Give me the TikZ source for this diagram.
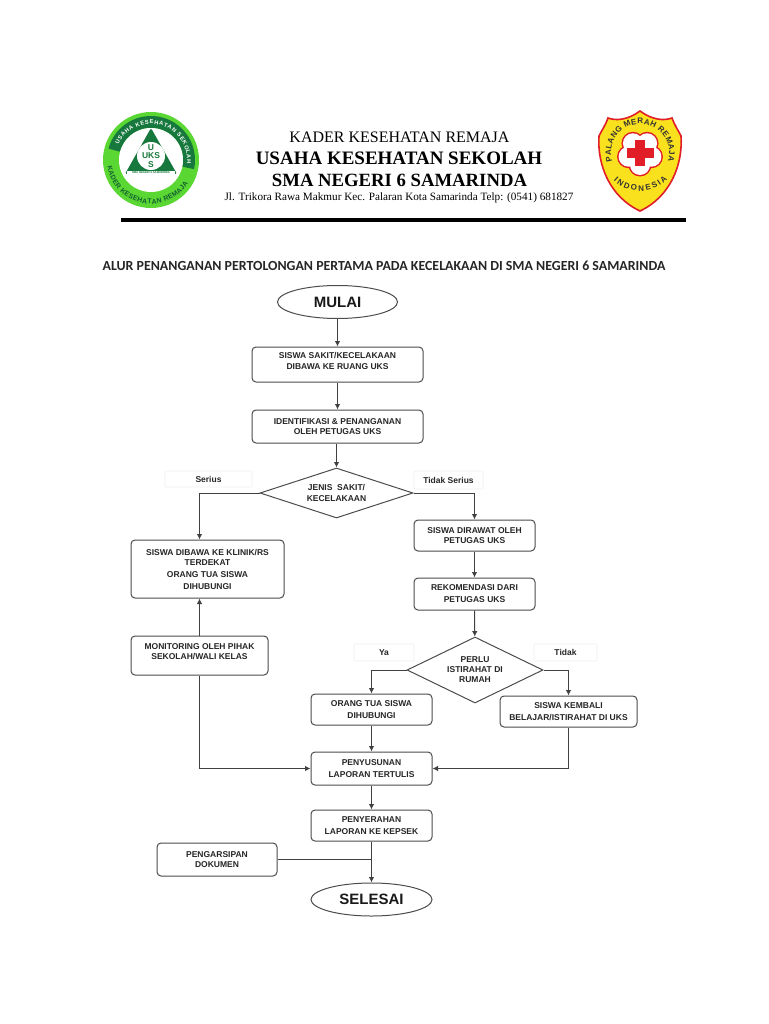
\documentclass[tikz,border=0pt]{standalone}
\usepackage{fontspec}
\setmainfont{Liberation Serif}
\setsansfont{Liberation Sans}
\newfontfamily\titlefont{Carlito}
\usepackage{xcolor}
\usetikzlibrary{arrows.meta,shapes.geometric,decorations.text}
\definecolor{inkgray}{gray}{0.15}
\definecolor{uksdark}{RGB}{22,120,60}
\definecolor{uksbright}{RGB}{90,215,50}
\definecolor{pmryellow}{RGB}{250,225,30}
\definecolor{pmrred}{RGB}{225,30,40}
\newcommand{\boxfont}{\sffamily\bfseries\fontsize{8.5}{10.5}\selectfont}
\newcommand{\arcfontA}{\sffamily\bfseries\fontsize{5.7}{6}\selectfont}
\newcommand{\arcfontC}{\sffamily\bfseries\fontsize{6.9}{7}\selectfont}
\newcommand{\arcfontB}{\sffamily\bfseries\fontsize{8}{8.5}\selectfont}

\begin{document}
\begin{tikzpicture}[
    x=1pt, y=-1pt,
    >={Latex[length=5.5pt,width=5.5pt]},
    flowbox/.style={draw=black!70, line width=1pt, rounded corners=4pt,
        fill=white, align=center, inner sep=0pt, font=\boxfont, text=inkgray},
    startend/.style={draw=black!70, line width=1pt, ellipse, fill=white,
        inner sep=0pt, font=\sffamily\bfseries\fontsize{15}{17}\selectfont,
        text=black!90},
    decision/.style={draw=black!70, line width=1pt, diamond, fill=white,
        align=center, inner sep=0pt, font=\boxfont, text=inkgray},
    caselabel/.style={draw=black!6, line width=0.7pt, rounded corners=1pt,
        inner sep=0pt, font=\boxfont, text=inkgray},
    flowline/.style={->, line width=1pt, draw=black!75},
    headline/.style={font=\fontsize{#1}{#1}\selectfont, text=black},
    headbold/.style={font=\bfseries\fontsize{#1}{#1}\selectfont, text=black},
]
\useasboundingbox[fill=white] (0,0) rectangle (768,1024);

% kop surat
\node[headline=16] (kader) at (399.5,137) {KADER KESEHATAN REMAJA};
\node[headbold=19] (usaha) at (399,158) {USAHA KESEHATAN SEKOLAH};
\node[headbold=18.7] (sman) at (399.5,180) {SMA NEGERI 6 SAMARINDA};
\node[headline=11.2] (alamat) at (399,198) {Jl. Trikora Rawa Makmur Kec. Palaran Kota Samarinda Telp: (0541) 681827};
\fill[black] (121,218.5) rectangle (686,222);

% logo uks
\fill[uksbright] (151,160) circle[radius=48pt];
\fill[uksdark] (151,160) ++(165:44pt) arc[start angle=165, end angle=-12, radius=44pt]
    -- ++(168:12pt) arc[start angle=-12, end angle=165, radius=32pt] -- cycle;
\fill[white] (151,160) circle[radius=32pt];
\fill[uksdark, rounded corners=1.5pt] (151,128) -- (177,174) -- (125,174) -- cycle;
\fill[white] (151,156) circle[radius=14pt];
\fill[white] (127,171) rectangle (175,175);
\node[font=\sffamily\bfseries\fontsize{2.8}{3}\selectfont, text=uksdark, inner sep=0pt]
    (uksname) at (151,173) {SMA NEGERI 6 SAMARINDA};
\node[font=\sffamily\bfseries\fontsize{8.5}{8.6}\selectfont, align=center, text=uksdark, inner sep=0pt]
    (uksmark) at (151,156) {U\\UKS\\S};
\draw[decorate, decoration={text along path, text align={fit to path},
        text={|\arcfontA\color{white}|USAHA KESEHATAN SEKOLAH}}]
    (151,160) ++(155:36pt) arc[start angle=155, end angle=-6, radius=36pt];
\draw[decorate, decoration={text along path, text align={fit to path},
        text={|\arcfontC\color{uksdark!80!black}|KADER KESEHATAN REMAJA}}]
    (151,160) ++(188:44pt) arc[start angle=188, end angle=328, radius=44pt];

% logo pmr
\filldraw[draw=pmrred, fill=pmryellow, line width=1.6pt]
    (640,111) .. controls (652,120) and (664,121) .. (672,118)
    .. controls (674,124) and (678,130) .. (681,136)
    .. controls (683,165) and (670,197) .. (640,211)
    .. controls (610,197) and (597,165) .. (599,136)
    .. controls (602,130) and (606,124) .. (608,118)
    .. controls (616,121) and (628,120) .. (640,111) -- cycle;
\foreach \a in {54,126,198,270,342} {
    \fill[pmrred] (640,153) ++(\a:12pt) circle[radius=11.5pt];
}
\foreach \a in {54,126,198,270,342} {
    \fill[white] (640,153) ++(\a:12pt) circle[radius=10pt];
}
\fill[white] (640,153) circle[radius=13pt];
\fill[pmrred] (635,140) rectangle (645,166);
\fill[pmrred] (627,148) rectangle (654,158);
\draw[decorate, decoration={text along path, text align={fit to path},
        text={|\arcfontB\color{black!80}|PALANG MERAH REMAJA}}]
    (640,153) ++(197:29pt) arc[start angle=197, end angle=-17, radius=29pt];
\draw[decorate, decoration={text along path, text align={fit to path},
        text={|\arcfontB\color{black!80}|INDONESIA}}]
    (640,153) ++(226:38pt) arc[start angle=226, end angle=316, radius=38pt];

% judul
\node[font=\titlefont\bfseries\fontsize{13.9}{15}\selectfont, text=black!85] (judul) at (384,266)
    {ALUR PENANGANAN PERTOLONGAN PERTAMA PADA KECELAKAAN DI SMA NEGERI 6 SAMARINDA};

% alur
\node[startend, minimum width=120pt, minimum height=33pt] (mulai) at (337.5,302) {MULAI};
\node[flowbox, minimum width=171pt, minimum height=35pt] (sakit) at (337.5,364.5)
    {SISWA SAKIT/KECELAKAAN\\DIBAWA KE RUANG UKS\\[-3pt]};
\node[flowbox, minimum width=171pt, minimum height=33pt] (identifikasi) at (337.5,426.5)
    {IDENTIFIKASI \& PENANGANAN\\OLEH PETUGAS UKS};
\node[decision, aspect=3, minimum width=153pt, minimum height=50pt] (jenis) at (336.5,493)
    {JENIS\ \ SAKIT/\\KECELAKAAN};
\node[caselabel, minimum width=87pt, minimum height=16pt] (serius) at (208.5,479) {Serius};
\node[caselabel, minimum width=69pt, minimum height=18pt] (tidakserius) at (448.5,480) {Tidak Serius};
\node[flowbox, minimum width=153pt, minimum height=58pt] (klinik) at (207.5,569)
    {SISWA DIBAWA KE KLINIK/RS\\[-0.5pt]TERDEKAT\\[1.5pt]ORANG TUA SISWA\\[1.5pt]DIHUBUNGI};
\node[flowbox, minimum width=137pt, minimum height=39pt] (monitoring) at (199.5,655.5)
    {MONITORING OLEH PIHAK\\[-0.5pt]SEKOLAH/WALI KELAS\\[-3pt]};
\node[flowbox, minimum width=121pt, minimum height=31pt] (dirawat) at (474.5,535.5)
    {SISWA DIRAWAT OLEH\\[-0.5pt]PETUGAS UKS};
\node[flowbox, minimum width=121pt, minimum height=32pt] (rekomendasi) at (474.5,594)
    {REKOMENDASI DARI\\[1.5pt]PETUGAS UKS};
\node[decision, aspect=2, minimum width=136pt, minimum height=66pt] (perlu) at (475,670)
    {PERLU\\[-0.5pt]ISTIRAHAT DI\\[-0.5pt]RUMAH};
\node[caselabel, minimum width=60pt, minimum height=17pt] (ya) at (384,652.5) {Ya};
\node[caselabel, minimum width=63pt, minimum height=17pt] (tidak) at (565.5,652.5) {Tidak};
\node[flowbox, minimum width=121pt, minimum height=31pt] (ortu) at (371.5,709.5)
    {ORANG TUA SISWA\\[1.5pt]DIHUBUNGI};
\node[flowbox, minimum width=137pt, minimum height=31pt] (kembali) at (568.5,711.5)
    {SISWA KEMBALI\\[1.5pt]BELAJAR/ISTIRAHAT DI UKS};
\node[flowbox, minimum width=121pt, minimum height=33pt] (penyusunan) at (371.5,768.5)
    {PENYUSUNAN\\[1.5pt]LAPORAN TERTULIS};
\node[flowbox, minimum width=121pt, minimum height=31pt] (penyerahan) at (371.5,825.5)
    {PENYERAHAN\\[1.5pt]LAPORAN KE KEPSEK};
\node[flowbox, minimum width=120pt, minimum height=33pt] (arsip) at (217,859.5)
    {PENGARSIPAN\\[-0.5pt]DOKUMEN};
\node[startend, minimum width=121pt, minimum height=33pt] (selesai) at (371.5,899.5) {SELESAI};

\draw[flowline] (mulai) -- (sakit);
\draw[flowline] (sakit) -- (identifikasi);
\draw[flowline] (identifikasi.south -| jenis.north) -- (jenis.north);
\draw[flowline] (jenis.west) -| (klinik.north -| monitoring.north);
\draw[flowline] (jenis.east) -| (dirawat.north);
\draw[flowline] (dirawat) -- (rekomendasi);
\draw[flowline] (rekomendasi) -- (perlu);
\draw[flowline] (monitoring.north) -- (klinik.south -| monitoring.north);
\draw[flowline] (monitoring.south) |- (penyusunan.west);
\draw[flowline] (perlu.west) -| (ortu.north);
\draw[flowline] (perlu.east) -| (kembali.north);
\draw[flowline] (ortu) -- (penyusunan);
\draw[flowline] (kembali.south) |- (penyusunan.east);
\draw[flowline] (penyusunan) -- (penyerahan);
\draw[flowline] (penyerahan) -- (selesai);
\draw[line width=1pt, draw=black!75] (arsip.east) -- (arsip.east -| selesai.north);
\end{tikzpicture}
\end{document}
